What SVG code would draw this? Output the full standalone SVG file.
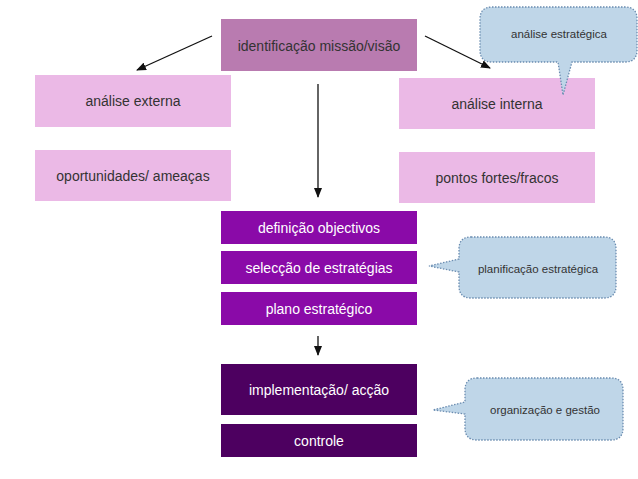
<svg xmlns="http://www.w3.org/2000/svg" width="638" height="479" viewBox="0 0 638 479">
<style>
text{font-family:"Liberation Sans",Arial,sans-serif;font-size:14px;text-anchor:middle;dominant-baseline:central}
.l{fill:#ebb9e6}.d{fill:#333}.w{fill:#fff}
.c{fill:#bfd6e8;stroke:#6a8cb0;stroke-width:1.3;stroke-dasharray:1.5 1.5}
.a{stroke:#111;stroke-width:1.3;fill:none;marker-end:url(#ah)}
</style>
<defs><marker id="ah" markerWidth="10" markerHeight="8" refX="9" refY="4" orient="auto" markerUnits="userSpaceOnUse"><path d="M0,0 L10,4 L0,8z" fill="#111"/></marker></defs>
<rect width="638" height="479" fill="#fff"/>
<g id="missao"><rect x="221" y="19" width="196" height="52" fill="#b97bb0"/><text x="319" y="46" class="d">identificação missão/visão</text></g>
<g id="externa"><rect x="35" y="75" width="196" height="52" class="l"/><text x="133" y="101" class="d">análise externa</text></g>
<g id="interna"><rect x="399" y="78" width="196" height="51" class="l"/><text x="497" y="104" class="d">análise interna</text></g>
<g id="oportunidades"><rect x="35" y="150" width="196" height="51" class="l"/><text x="133" y="176" class="d">oportunidades/ ameaças</text></g>
<g id="pontos"><rect x="399" y="152" width="196" height="51" class="l"/><text x="497" y="178" class="d">pontos fortes/fracos</text></g>
<g id="objectivos"><rect x="221" y="211" width="196" height="33" fill="#8a0aa8"/><text x="319" y="228" class="w">definição objectivos</text></g>
<g id="estrategias"><rect x="221" y="251" width="196" height="33" fill="#8a0aa8"/><text x="319" y="268" class="w">selecção de estratégias</text></g>
<g id="plano"><rect x="221" y="292" width="196" height="33" fill="#8a0aa8"/><text x="319" y="309" class="w">plano estratégico</text></g>
<g id="implementacao"><rect x="221" y="364" width="196" height="51" fill="#4d0060"/><text x="319" y="390" class="w">implementação/ acção</text></g>
<g id="controle"><rect x="221" y="424" width="196" height="33" fill="#4d0060"/><text x="319" y="441" class="w">controle</text></g>
<g id="c1"><path class="c" d="M492,7 H625 Q637,7 637,19 V50 Q637,62 625,62 H572 L563,95 L558,62 H492 Q480,62 480,50 V19 Q480,7 492,7Z"/><text x="559" y="34" class="d" style="font-size:11.5px">análise estratégica</text></g>
<g id="c2"><path class="c" d="M471,237 H604 Q616,237 616,249 V286 Q616,298 604,298 H471 Q459,298 459,286 V272 L429,266 L459,259 V249 Q459,237 471,237Z"/><text x="538" y="269" class="d" style="font-size:11.5px">planificação estratégica</text></g>
<g id="c3"><path class="c" d="M477,378 H611 Q623,378 623,390 V428 Q623,440 611,440 H477 Q465,440 465,428 V414 L433,410 L465,402 V390 Q465,378 477,378Z"/><text x="545" y="410" class="d" style="font-size:11.5px">organização e gestão</text></g>
<g id="connectors">
<line class="a" x1="212" y1="36" x2="137" y2="70"/>
<line class="a" x1="425" y1="36" x2="490" y2="68"/>
<line class="a" x1="318" y1="84" x2="318" y2="197"/>
<line class="a" x1="318" y1="336" x2="318" y2="355"/>
</g>
</svg>
